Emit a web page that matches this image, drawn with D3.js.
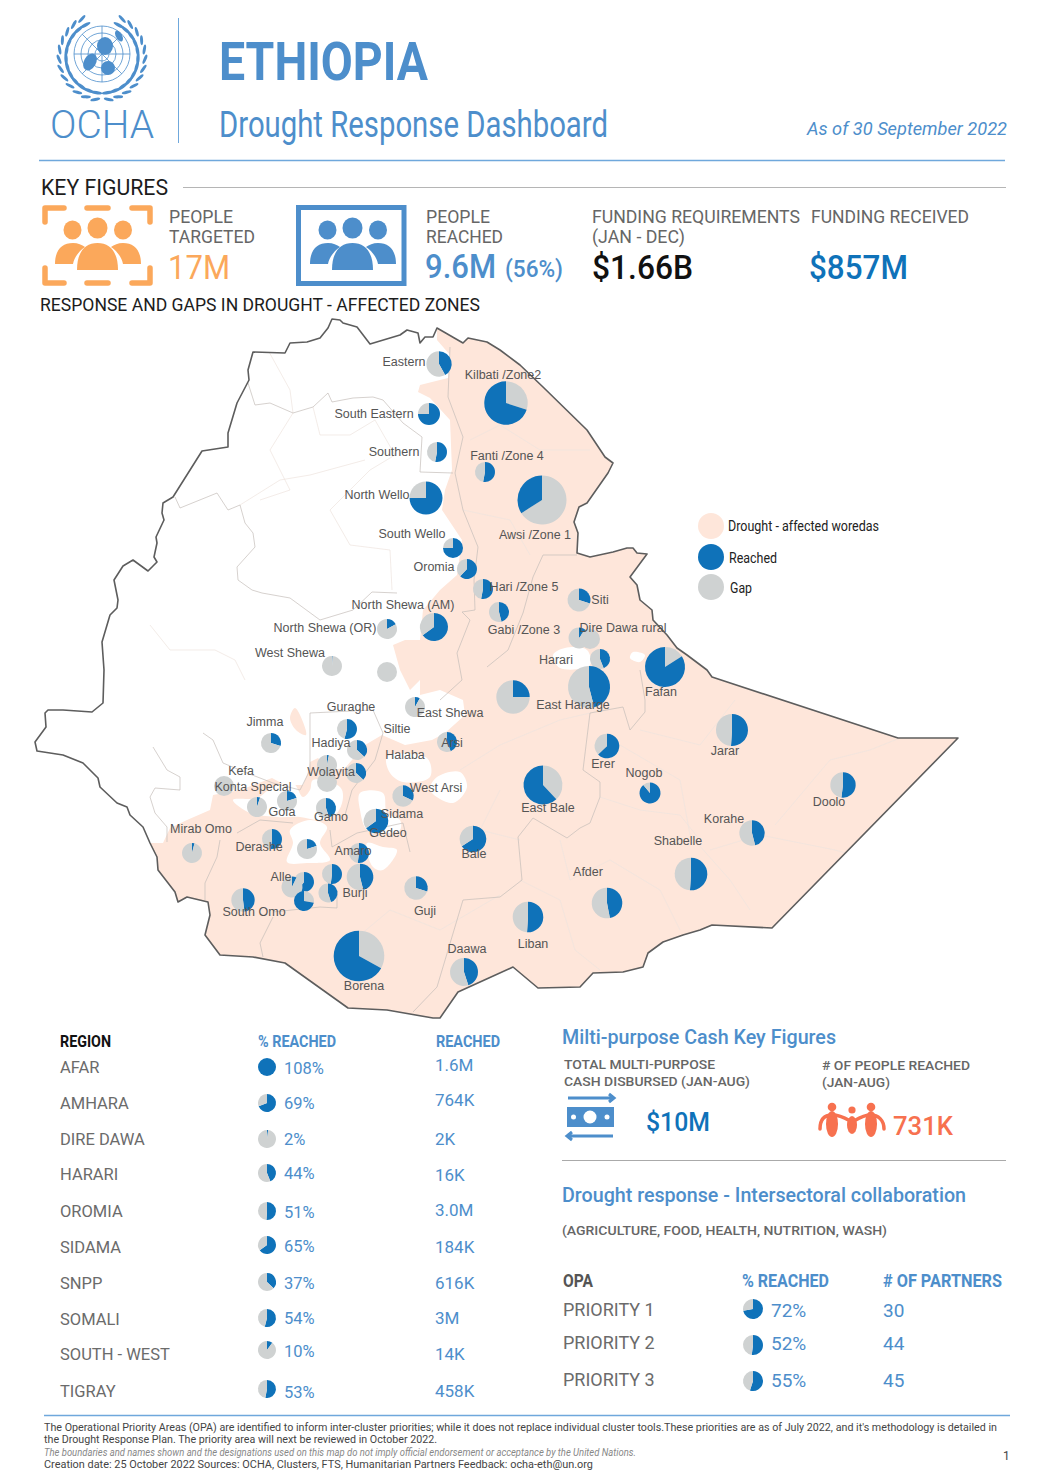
<!DOCTYPE html>
<html>
<head>
<meta charset="utf-8">
<title>Ethiopia Drought Response Dashboard</title>
<script src="https://cdn.jsdelivr.net/npm/d3@7"></script>
<style>
    html, body { margin: 0; padding: 0; background: #fff; }
    svg { display: block; }
    text { font-family: Roboto, "Noto Sans", sans-serif; }
</style>
</head>
<body>
<div id="page"></div>
<script>
// zone pies. targeted is an estimate from the circle area
const pieNames = ["Eastern", "Kilbati", "South Eastern", "Southern", "Fanti", "North Wello", "Awsi", "South Wello", "Oromia", "Hari", "Gabi", "North Shewa (AM)", "North Shewa (OR)", "West Shewa", "Addis area", "Siti", "Dire Dawa rural", "Dire Dawa urban", "Harari", "Fafan", "East Hararge", "West Hararge", "Erer", "Jarar", "Nogob", "East Bale", "Doolo", "Korahe", "Shabelle", "Afder", "Liban", "Daawa", "Borena", "Guji", "Bale", "Sidama", "West Arsi", "Arsi", "East Shewa", "Guraghe", "Hadiya", "Jimma", "Kembata", "Wolayita", "Halaba", "Kefa", "Konta Special", "Dawro", "Gamo", "Mirab Omo", "Derashe", "Basketo", "Amaro", "Burji", "Konso", "Ale", "Alle", "Male", "Benatsemay", "South Omo"]
const pieLon = [439, 506, 429, 437, 485, 426, 542, 453, 467, 483, 499, 434, 387, 332, 387, 579, 579, 590, 600, 665, 589, 513, 607, 732, 650, 543, 843, 752, 691, 607, 528, 464, 359, 416, 473, 376, 403, 447, 415, 347, 357, 271, 327, 356, 327, 224, 257, 287, 326, 192, 272, 307, 359, 360, 332, 328, 304, 292, 304, 243]
const pieLat = [364, 403, 414, 452, 472, 498, 500, 548, 569, 589, 612, 627, 629, 666, 672, 600, 638, 639, 659, 667, 687, 697, 746, 730, 793, 785, 785, 833, 874, 903, 917, 972, 956, 888, 839, 821, 796, 742, 707, 729, 750, 743, 765, 773, 782, 786, 807, 801, 808, 853, 839, 849, 853, 877, 874, 893, 882, 887, 901, 900]
const pieTargeted = [161, 471, 121, 100, 100, 272, 600, 100, 100, 100, 100, 196, 100, 100, 100, 132, 110, 100, 100, 400, 441, 279, 151, 256, 110, 380, 161, 161, 266, 234, 234, 196, 640, 137, 177, 151, 114, 100, 100, 100, 100, 100, 100, 100, 100, 100, 100, 100, 100, 100, 100, 100, 100, 177, 100, 90, 100, 110, 100, 137]
const pieReached = [0.42, 0.7, 0.75, 0.53, 0.53, 0.75, 0.34, 0.75, 0.62, 0.53, 0.46, 0.65, 0.17, 0.01, 0, 0.3, 0.12, 0, 0.44, 0.84, 0.46, 0.25, 0.63, 0.51, 0.89, 0.62, 0.52, 0.46, 0.51, 0.47, 0.51, 0.45, 0.67, 0.3, 0.66, 0.65, 0.32, 0.44, 0.08, 0.54, 0.37, 0.3, 0.03, 0.37, 0, 0, 0.05, 0.2, 0.45, 0.04, 0.52, 0.2, 0.52, 0.46, 0.52, 0.45, 0.6, 0.07, 0.72, 0.48]
// these pies start with the gap at 12 o'clock instead of the reached share
const pieGapFirst = ["Kilbati", "Awsi", "Fafan", "East Bale", "Borena", "Benatsemay"]

const labelNames = ["Eastern", "Kilbati /Zone2", "South Eastern", "Southern", "Fanti /Zone 4", "North Wello", "Awsi /Zone 1", "South Wello", "Oromia", "Hari /Zone 5", "Siti", "North Shewa (AM)", "North Shewa (OR)", "Gabi /Zone 3", "Dire Dawa rural", "West Shewa", "Harari", "East Hararge", "Fafan", "Guraghe", "East Shewa", "Jimma", "Siltie", "Hadiya", "Arsi", "Halaba", "Erer", "Jarar", "Wolayita", "Nogob", "Kefa", "Konta Special", "West Arsi", "Gofa", "Gamo", "East Bale", "Doolo", "Sidama", "Korahe", "Mirab Omo", "Gedeo", "Shabelle", "Derashe", "Bale", "Amaro", "Afder", "Alle", "Burji", "South Omo", "Guji", "Liban", "Daawa", "Borena"]
const labelLon = [404, 503, 374, 394, 507, 377, 535, 412, 434, 524, 600, 403, 325, 524, 623, 290, 556, 573, 661, 351, 450, 265, 397, 331, 452, 405, 603, 725, 331, 644, 241, 253, 436, 282, 331, 548, 829, 402, 724, 201, 388, 678, 259, 474, 353, 588, 281, 355, 254, 425, 533, 467, 364]
const labelLat = [362, 375, 414, 452, 456, 495, 535, 534, 567, 587, 600, 605, 628, 630, 628, 653, 660, 705, 692, 707, 713, 722, 729, 743, 743, 755, 764, 751, 772, 773, 771, 787, 788, 812, 817, 808, 802, 814, 819, 829, 833, 841, 847, 854, 851, 872, 877, 893, 912, 911, 944, 949, 986]

const countryOutline = [[340,320],[332,319],[328,328],[320,338],[307,342],[290,343],[285,353],[253,352],[248,370],[249,380],[237,403],[228,433],[228,447],[202,451],[173,497],[163,503],[162,513],[164,520],[156,537],[157,543],[154,557],[157,562],[148,571],[133,560],[123,566],[114,580],[118,600],[117,608],[110,615],[102,642],[104,670],[103,703],[92,712],[63,710],[48,710],[45,713],[46,727],[35,742],[37,751],[63,755],[83,763],[98,778],[100,787],[117,803],[127,807],[130,815],[143,827],[150,843],[157,857],[158,870],[175,892],[178,902],[187,897],[208,902],[210,915],[205,935],[220,955],[253,957],[285,963],[348,1008],[387,1010],[433,1018],[440,1018],[458,992],[480,982],[513,967],[538,988],[580,987],[593,973],[623,972],[643,967],[648,953],[663,942],[683,935],[700,930],[712,925],[772,928],[958,738],[898,738],[712,677],[707,670],[687,655],[677,648],[667,635],[653,620],[652,610],[640,600],[637,585],[630,577],[647,554],[637,553],[633,548],[627,548],[613,552],[590,557],[577,553],[578,533],[574,522],[579,507],[587,503],[608,473],[613,463],[605,457],[587,430],[543,387],[520,365],[500,350],[487,342],[468,338],[463,343],[437,328],[433,337],[425,337],[420,343],[418,333],[407,330],[400,335],[370,344],[357,327],[343,323]]

// drought woredas, clipped to the country afterwards
const droughtArea = [[437,320],[520,320],[700,450],[1000,700],[1000,950],[700,1040],[400,1040],[200,1000],[130,900],[140,843],[163,843],[170,828],[187,820],[210,810],[213,795],[240,790],[272,778],[285,785],[303,785],[307,775],[310,762],[318,758],[330,770],[345,768],[365,745],[382,735],[405,745],[432,740],[445,733],[465,715],[463,700],[440,690],[420,695],[420,680],[410,690],[400,670],[393,645],[405,640],[420,640],[423,610],[440,590],[457,575],[462,540],[442,510],[445,490],[452,470],[450,420],[430,398],[418,392],[420,385],[448,378],[450,355],[437,340]]
const droughtPatches = [
    [[295,708],[303,722],[306,735],[296,730],[290,718]]
]
const droughtHoles = [
    [[233,800],[250,813],[277,817],[300,817],[320,820],[337,813],[343,797],[340,787],[313,780],[310,790],[303,797],[293,783],[273,787],[257,798]],
    [[290,830],[310,820],[327,827],[320,843],[330,860],[307,863],[287,862],[293,843]],
    [[367,843],[383,847],[397,850],[383,870],[373,867]],
    [[360,793],[383,793],[387,813],[400,820],[400,830],[383,833],[367,830],[360,810]],
    [[387,757],[427,758],[430,777],[403,782],[390,773]],
    [[437,777],[460,772],[467,787],[453,803],[430,790]],
    [[553,655],[565,648],[587,650],[590,665],[560,668]],
    [[633,652],[645,655],[640,662],[630,658]]
]

const regionBorders = [
    [[248,383],[255,405],[270,403],[293,413],[313,407],[328,393],[332,402],[353,398],[373,397],[383,400],[403,423],[422,437],[420,472],[453,473]],
    [[450,347],[448,397],[463,437],[455,473],[463,510],[478,547],[474,580],[475,610],[462,612],[470,620],[457,653],[462,680],[440,700]],
    [[543,555],[577,555]],
    [[543,555],[533,577],[523,613],[508,650],[487,667]],
    [[590,713],[583,770],[600,782],[600,797],[590,823],[580,828],[567,838],[533,818],[518,837],[522,880],[500,897],[463,900],[437,987],[413,1012]],
    [[590,713],[623,707],[630,730],[645,712],[645,700],[640,670]],
    [[175,497],[180,508],[217,493],[228,510],[240,505],[245,523],[253,533],[255,547],[237,567],[238,580],[252,590],[262,593],[290,598],[320,620],[353,610],[372,592],[397,593]],
    [[203,733],[213,740],[223,763],[247,773],[273,783],[300,790],[310,770],[310,713],[373,710],[383,733],[375,760],[352,790],[345,815]],
    [[153,747],[167,770],[180,777],[180,790],[155,788],[150,797],[155,813],[167,827],[167,842]],
    [[220,840],[217,857],[205,883],[205,900]],
    [[237,833],[260,820],[293,823]],
    [[330,830],[332,847],[357,833],[403,823],[410,852]],
    [[273,917],[260,943],[263,957]],
    [[273,912],[320,907],[337,908],[337,890]]
]
const zoneBorders = [
    [[268,350],[290,390],[293,413]],
    [[293,413],[270,450],[290,490],[260,500]],
    [[313,407],[320,435],[350,435],[375,420],[395,455],[370,470],[350,490],[330,510],[350,545]],
    [[350,545],[390,550],[392,590]],
    [[240,505],[280,480],[310,475],[365,460]],
    [[150,625],[170,650],[215,650],[235,660],[245,680]],
    [[470,440],[500,425],[540,450],[590,450]],
    [[463,510],[510,520],[530,555]],
    [[640,730],[700,745],[735,700]],
    [[775,825],[830,760],[870,750],[900,738]],
    [[710,850],[760,835],[835,850],[870,860]],
    [[620,745],[680,780],[690,835],[730,880],[750,910]],
    [[600,797],[640,810],[680,815],[700,840]],
    [[560,840],[570,880],[610,860],[660,890],[680,930]],
    [[520,880],[560,900],[575,950],[600,970]],
    [[460,770],[500,745],[560,720],[590,713]],
    [[500,790],[480,830],[520,840]],
    [[330,960],[390,910],[440,930],[500,895]]
]

const regions = ["AFAR", "AMHARA", "DIRE DAWA", "HARARI", "OROMIA", "SIDAMA", "SNPP", "SOMALI", "SOUTH - WEST", "TIGRAY"]
const regionPct = [108, 69, 2, 44, 51, 65, 37, 54, 10, 53]
const regionReached = ["1.6M", "764K", "2K", "16K", "3.0M", "184K", "616K", "3M", "14K", "458K"]
const regionRowY = [1067, 1103, 1139, 1174, 1211, 1247, 1283, 1319, 1354, 1391]
const regionPieY = [1067, 1103, 1139, 1173, 1211, 1245, 1282, 1318, 1350, 1389]
const regionPctY = [1068, 1103, 1139, 1173, 1212, 1246, 1283, 1318, 1351, 1392]
const regionReachedY = [1065, 1100, 1139, 1175, 1210, 1247, 1283, 1318, 1354, 1391]

const priorities = ["PRIORITY 1", "PRIORITY 2", "PRIORITY 3"]
const priorityPct = [72, 52, 55]
const priorityPartners = [30, 44, 45]
const priorityRowY = [1310, 1343, 1380]

const BLUE = "#0f72b9"
const GAP = "#cfd2d2"
const PINK = "#fee6da"
const HEAD_BLUE = "#4d8ecb"
const ORANGE = "#fba85b"
const CORAL = "#f7714f"
const TEXT_GREY = "#666"

const svg = d3.select("#page").append("svg").attr("width", 1048).attr("height", 1481)

const mapX = d3.scaleLinear().domain([34, 958]).range([34, 958])
const mapY = d3.scaleLinear().domain([318, 1020]).range([318, 1020])
const pieRadius = d3.scaleSqrt().domain([0, 640]).range([0, 25.3])
const share = d3.scaleLinear().domain([0, 100]).range([0, 1]).clamp(true)
const mapLine = d3.line().x((d) => mapX(d[0])).y((d) => mapY(d[1]))
const mapBlob = d3.line().x((d) => mapX(d[0])).y((d) => mapY(d[1])).curve(d3.curveCatmullRomClosed.alpha(0.5))
const pieLayout = d3.pie().sort(null).value((d) => d.value)

function txt(parent, x, y, str, o = {}) {
    const t = parent.append("text")
        .attr("x", x)
        .attr("y", y)
        .attr("dy", "0.35em")
        .attr("font-size", o.size || 14)
        .attr("fill", o.fill || TEXT_GREY)
        .attr("font-weight", o.weight || 400)
        .text(str)
    if (o.anchor) t.attr("text-anchor", o.anchor)
    if (o.style) t.attr("font-style", o.style)
    if (o.family) t.style("font-family", o.family)
    if (o.w) t.attr("textLength", o.w).attr("lengthAdjust", "spacingAndGlyphs")
    return t
}

function drawPie(parent, cx, cy, r, reached, gapFirst) {
    const slices = gapFirst
        ? [{ value: 1 - reached, color: GAP }, { value: reached, color: BLUE }]
        : [{ value: reached, color: BLUE }, { value: 1 - reached, color: GAP }]
    const arc = d3.arc().innerRadius(0).outerRadius(r)
    parent.append("g")
        .attr("transform", `translate(${cx},${cy})`)
        .selectAll("path")
        .data(pieLayout(slices))
        .join("path")
        .attr("d", arc)
        .attr("fill", (d) => d.data.color)
}

function drawLogo(g) {
    const cx = 102
    const cy = 54
    const globe = g.append("g").attr("fill", "none").attr("stroke", HEAD_BLUE).attr("stroke-width", 0.8)
    ;[28, 21, 14, 7].forEach((r) => globe.append("circle").attr("cx", cx).attr("cy", cy).attr("r", r))
    d3.range(8).forEach((i) => {
        const a = i * Math.PI / 4
        globe.append("line")
            .attr("x1", cx).attr("y1", cy)
            .attr("x2", cx + 28 * Math.cos(a)).attr("y2", cy + 28 * Math.sin(a))
    })
    // continents
    const land = g.append("g").attr("fill", HEAD_BLUE)
    land.append("ellipse").attr("cx", cx + 3).attr("cy", cy - 8).attr("rx", 8).attr("ry", 9)
    land.append("ellipse").attr("cx", cx - 12).attr("cy", cy + 8).attr("rx", 6).attr("ry", 9).attr("transform", `rotate(30 ${cx - 12} ${cy + 8})`)
    land.append("ellipse").attr("cx", cx + 6).attr("cy", cy + 14).attr("rx", 7).attr("ry", 7)
    land.append("ellipse").attr("cx", cx + 17).attr("cy", cy - 18).attr("rx", 3).attr("ry", 6).attr("transform", `rotate(-30 ${cx + 17} ${cy - 18})`)
    // laurels
    const leaves = g.append("g").attr("fill", HEAD_BLUE)
    ;[-1, 1].forEach((side) => {
        d3.range(12).forEach((i) => {
            const a = (-62 + i * 13) * Math.PI / 180
            const deg = side * (i * 13 - 62)
            const x1 = cx + side * 36 * Math.cos(a)
            const y1 = cy + 3 + 36 * Math.sin(a)
            const x2 = cx + side * 43 * Math.cos(a)
            const y2 = cy + 3 + 43 * Math.sin(a)
            leaves.append("ellipse")
                .attr("cx", x1).attr("cy", y1)
                .attr("rx", 1.7).attr("ry", 6)
                .attr("transform", `rotate(${deg} ${x1} ${y1})`)
            leaves.append("ellipse")
                .attr("cx", x2).attr("cy", y2)
                .attr("rx", 1.5).attr("ry", 5)
                .attr("transform", `rotate(${deg + side * 20} ${x2} ${y2})`)
        })
    })
}

function drawPeople(g, dx, color) {
    const people = g.append("g").attr("fill", color).attr("transform", `translate(${dx},0)`)
    people.append("ellipse").attr("cx", 72.5).attr("cy", 230).attr("rx", 9).attr("ry", 9.5)
    people.append("ellipse").attr("cx", 97.5).attr("cy", 228).attr("rx", 10).attr("ry", 10.5)
    people.append("ellipse").attr("cx", 123).attr("cy", 230).attr("rx", 9).attr("ry", 9.5)
    people.append("path").attr("d", "M55,264 C55,250 62,243 73,243 C78,243 82,245 85,247 C78,252 74,258 73,264 Z")
    people.append("path").attr("d", "M141,264 C141,250 134,243 123,243 C118,243 114,245 111,247 C118,252 122,258 123,264 Z")
    people.append("path").attr("d", "M77,270 C77,252 85,243 97.5,243 C110,243 118,252 118,270 Z")
}

function drawHeader() {
    const g = svg.append("g")
    drawLogo(g)
    txt(g, 50, 125, "OCHA", { size: 38, fill: HEAD_BLUE, weight: 300, w: 104 })
    g.append("line").attr("x1", 178.5).attr("x2", 178.5).attr("y1", 18).attr("y2", 143).attr("stroke", "#6fa8dc").attr("stroke-width", 1)
    txt(g, 219, 61, "ETHIOPIA", { size: 54, fill: HEAD_BLUE, weight: 700, w: 209 })
    txt(g, 219, 124, "Drought Response Dashboard", { size: 36, fill: HEAD_BLUE, w: 389 })
    txt(g, 807, 129, "As of 30 September 2022", { size: 18, fill: HEAD_BLUE, style: "italic", w: 200 })
    g.append("line").attr("x1", 39).attr("x2", 1005).attr("y1", 160.5).attr("y2", 160.5).attr("stroke", "#6fa8dc").attr("stroke-width", 1.5)

    txt(g, 41, 187, "KEY FIGURES", { size: 22, fill: "#1c1c1c", w: 127 })
    g.append("line").attr("x1", 183).attr("x2", 1006).attr("y1", 187.5).attr("y2", 187.5).attr("stroke", "#b5b5b5").attr("stroke-width", 1.2)

    // target icon brackets
    const brackets = g.append("g").attr("fill", "none").attr("stroke", ORANGE).attr("stroke-width", 5.5).attr("stroke-linejoin", "round").attr("stroke-linecap", "round")
    brackets.append("path").attr("d", "M45,222 V208 H64")
    brackets.append("path").attr("d", "M132,208 H150 V222")
    brackets.append("path").attr("d", "M45,268 V283 H64")
    brackets.append("path").attr("d", "M132,283 H150 V268")
    brackets.append("path").attr("d", "M87,208 H108")
    brackets.append("path").attr("d", "M87,283 H108")
    drawPeople(g, 0, ORANGE)

    g.append("rect").attr("x", 298.5).attr("y", 207.5).attr("width", 105.5).attr("height", 76).attr("fill", "none").attr("stroke", HEAD_BLUE).attr("stroke-width", 5)
    drawPeople(g, 255, HEAD_BLUE)

    txt(g, 169, 217, "PEOPLE", { size: 18, w: 64 })
    txt(g, 169, 237, "TARGETED", { size: 18, w: 86 })
    txt(g, 168, 267, "17M", { size: 34, fill: ORANGE, w: 62 })
    txt(g, 426, 217, "PEOPLE", { size: 18, w: 64 })
    txt(g, 426, 237, "REACHED", { size: 18, w: 77 })
    txt(g, 425, 266, "9.6M", { size: 34, fill: HEAD_BLUE, weight: 500, w: 71 })
    txt(g, 505, 269, "(56%)", { size: 24, fill: HEAD_BLUE, weight: 500, w: 58 })
    txt(g, 592, 217, "FUNDING REQUIREMENTS", { size: 18, w: 208 })
    txt(g, 592, 237, "(JAN - DEC)", { size: 18, w: 93 })
    txt(g, 592, 267, "$1.66B", { size: 34, fill: "#111", weight: 500, w: 101 })
    txt(g, 811, 217, "FUNDING RECEIVED", { size: 18, w: 158 })
    txt(g, 809, 267, "$857M", { size: 34, fill: BLUE, weight: 500, w: 99 })
    txt(g, 40, 305, "RESPONSE AND GAPS IN DROUGHT - AFFECTED ZONES", { size: 18, fill: "#1c1c1c", w: 440 })
}

function drawMap() {
    const g = svg.append("g")
    g.append("clipPath").attr("id", "country").append("path").attr("d", mapLine(countryOutline) + "Z")

    const inside = g.append("g").attr("clip-path", "url(#country)")
    inside.append("path").attr("d", mapLine(countryOutline) + "Z").attr("fill", "#fff")
    inside.append("path").attr("d", mapLine(droughtArea) + "Z").attr("fill", PINK)
    inside.selectAll(".patch")
        .data(droughtPatches)
        .join("path")
        .attr("class", "patch")
        .attr("d", mapBlob)
        .attr("fill", PINK)
    inside.selectAll(".hole")
        .data(droughtHoles)
        .join("path")
        .attr("class", "hole")
        .attr("d", mapBlob)
        .attr("fill", "#fff")
    inside.selectAll(".zone")
        .data(zoneBorders)
        .join("path")
        .attr("class", "zone")
        .attr("d", mapLine)
        .attr("fill", "none")
        .attr("stroke", "#eee4de")
        .attr("stroke-width", 0.7)
    inside.selectAll(".region")
        .data(regionBorders)
        .join("path")
        .attr("class", "region")
        .attr("d", mapLine)
        .attr("fill", "none")
        .attr("stroke", "#c4bdb9")
        .attr("stroke-width", 0.7)

    g.append("path")
        .attr("d", mapLine(countryOutline) + "Z")
        .attr("fill", "none")
        .attr("stroke", "#5d5d5d")
        .attr("stroke-width", 1.6)
        .attr("stroke-linejoin", "round")

    pieReached.forEach((reached, i) => {
        drawPie(g, mapX(pieLon[i]), mapY(pieLat[i]), pieRadius(pieTargeted[i]), reached, pieGapFirst.includes(pieNames[i]))
    })

    labelNames.forEach((name, i) => {
        txt(g, mapX(labelLon[i]), mapY(labelLat[i]), name, { size: 12.5, fill: "#555", anchor: "middle", family: "Liberation Sans" })
    })

    // legend
    const legendItems = ["Drought - affected woredas", "Reached", "Gap"]
    const legendColors = [PINK, BLUE, GAP]
    const legendY = [526, 557, 587]
    const legendTextX = [728, 729, 730]
    const legendWidth = [151, 48, 22]
    legendItems.forEach((item, i) => {
        g.append("circle").attr("cx", 711).attr("cy", legendY[i]).attr("r", 13).attr("fill", legendColors[i])
        txt(g, legendTextX[i], legendY[i] + (i === 0 ? 0 : 1), item, { size: 15, fill: "#222", w: legendWidth[i] })
    })
}

function drawRegionTable() {
    const g = svg.append("g")
    txt(g, 60, 1041, "REGION", { size: 16, fill: "#111", weight: 700, w: 51 })
    txt(g, 258, 1041, "% REACHED", { size: 16, fill: HEAD_BLUE, weight: 700, w: 78 })
    txt(g, 436, 1041, "REACHED", { size: 16, fill: HEAD_BLUE, weight: 700, w: 64 })

    regions.forEach((region, i) => {
        txt(g, 60, regionRowY[i], region, { size: 16.5, fill: "#6b6b6b" })
        drawPie(g, 267, regionPieY[i], 9, share(regionPct[i]), false)
        txt(g, 284, regionPctY[i], `${regionPct[i]}%`, { size: 16.5, fill: HEAD_BLUE })
        txt(g, 435, regionReachedY[i], regionReached[i], { size: 17, fill: HEAD_BLUE })
    })
}

function drawCashPanel() {
    const g = svg.append("g")
    txt(g, 562, 1037, "Milti-purpose Cash Key Figures", { size: 20, fill: HEAD_BLUE, weight: 500, w: 274 })
    txt(g, 564, 1064, "TOTAL MULTI-PURPOSE", { size: 13.5, weight: 500, w: 151 })
    txt(g, 564, 1081, "CASH DISBURSED (JAN-AUG)", { size: 13.5, weight: 500, w: 186 })
    txt(g, 822, 1065, "# OF PEOPLE REACHED", { size: 13.5, weight: 500, w: 148 })
    txt(g, 822, 1082, "(JAN-AUG)", { size: 13.5, weight: 500, w: 68 })

    // money icon
    const money = g.append("g")
    money.append("path").attr("d", "M568,1098 H612 M609,1094 L614,1098 L609,1102").attr("fill", "none").attr("stroke", HEAD_BLUE).attr("stroke-width", 3)
    money.append("rect").attr("x", 567).attr("y", 1107).attr("width", 47).attr("height", 20).attr("fill", HEAD_BLUE)
    money.append("circle").attr("cx", 590).attr("cy", 1117).attr("r", 6.5).attr("fill", "#fff")
    money.append("circle").attr("cx", 573.5).attr("cy", 1117).attr("r", 2.5).attr("fill", "#fff")
    money.append("circle").attr("cx", 607).attr("cy", 1117).attr("r", 2.5).attr("fill", "#fff")
    money.append("path").attr("d", "M613,1136 H569 M572,1132 L567,1136 L572,1140").attr("fill", "none").attr("stroke", HEAD_BLUE).attr("stroke-width", 3)
    txt(g, 646, 1122, "$10M", { size: 26, fill: BLUE, weight: 500, w: 64 })

    // family icon
    const family = g.append("g").attr("fill", CORAL)
    family.append("circle").attr("cx", 832).attr("cy", 1107).attr("r", 4.3)
    family.append("circle").attr("cx", 852).attr("cy", 1110).attr("r", 3.6)
    family.append("circle").attr("cx", 871).attr("cy", 1107).attr("r", 4.3)
    family.append("ellipse").attr("cx", 832).attr("cy", 1124).attr("rx", 6).attr("ry", 13)
    family.append("ellipse").attr("cx", 852).attr("cy", 1125).attr("rx", 5).attr("ry", 9)
    family.append("ellipse").attr("cx", 871).attr("cy", 1124).attr("rx", 6).attr("ry", 13)
    g.append("path")
        .attr("d", "M820,1129 C820,1118 826,1115 832,1115 C842,1115 848,1120 852,1122 C856,1120 862,1115 871,1115 C878,1115 884,1120 884,1129")
        .attr("fill", "none")
        .attr("stroke", CORAL)
        .attr("stroke-width", 3.5)
        .attr("stroke-linecap", "round")
    txt(g, 893, 1126, "731K", { size: 26, fill: CORAL, weight: 500, w: 60 })

    g.append("line").attr("x1", 562).attr("x2", 1006).attr("y1", 1160.5).attr("y2", 1160.5).attr("stroke", "#aaa").attr("stroke-width", 1)
}

function drawPriorityTable() {
    const g = svg.append("g")
    txt(g, 562, 1195, "Drought response - Intersectoral collaboration", { size: 20, fill: HEAD_BLUE, weight: 500, w: 404 })
    txt(g, 562, 1230, "(AGRICULTURE, FOOD, HEALTH, NUTRITION, WASH)", { size: 13.5, weight: 500, w: 325 })
    txt(g, 563, 1281, "OPA", { size: 18, fill: "#555", weight: 700, w: 30 })
    txt(g, 742, 1281, "% REACHED", { size: 18, fill: HEAD_BLUE, weight: 700, w: 87 })
    txt(g, 883, 1281, "# OF PARTNERS", { size: 18, fill: HEAD_BLUE, weight: 700, w: 119 })

    const priorityPieY = [1309, 1345, 1381]
    priorities.forEach((priority, i) => {
        txt(g, 563, priorityRowY[i], priority, { size: 18, fill: "#6b6b6b" })
        drawPie(g, 753, priorityPieY[i], 10, share(priorityPct[i]), false)
        txt(g, 771, priorityRowY[i], `${priorityPct[i]}%`, { size: 19, fill: HEAD_BLUE })
        txt(g, 883, priorityRowY[i], priorityPartners[i], { size: 19, fill: HEAD_BLUE })
    })
}

function drawFooter() {
    const g = svg.append("g")
    g.append("line").attr("x1", 44).attr("x2", 1010).attr("y1", 1415.5).attr("y2", 1415.5).attr("stroke", "#6fa8dc").attr("stroke-width", 1.5)
    txt(g, 44, 1427, "The Operational Priority Areas (OPA) are identified to inform inter-cluster priorities; while it does not replace individual cluster tools.These priorities are as of July 2022, and it's methodology is detailed in", { size: 11, fill: "#444", w: 953 })
    txt(g, 44, 1439, "the Drought Response Plan. The priority area will next be reviewed in October 2022.", { size: 11, fill: "#444", w: 393 })
    txt(g, 44, 1452, "The boundaries and names shown and the designations used on this map do not imply official endorsement or acceptance by the United Nations.", { size: 10, fill: "#888", style: "italic", w: 592 })
    txt(g, 44, 1464, "Creation date: 25 October 2022  Sources: OCHA, Clusters, FTS, Humanitarian Partners    Feedback: ocha-eth@un.org", { size: 11, fill: "#444", w: 549 })
    txt(g, 1003, 1456, "1", { size: 12, fill: "#444" })
}

drawHeader()
drawMap()
drawRegionTable()
drawCashPanel()
drawPriorityTable()
drawFooter()
</script>
</body>
</html>
